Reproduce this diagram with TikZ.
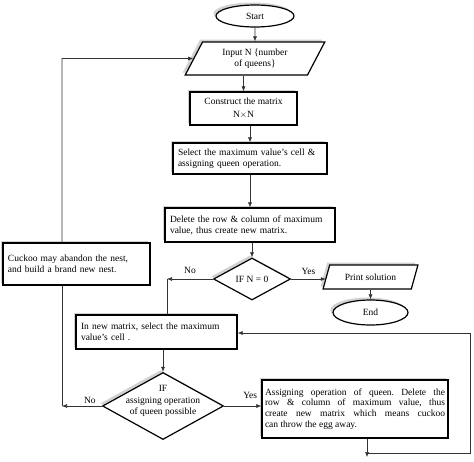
\documentclass[tikz,border=0pt]{standalone}
\usepackage{fontspec}
\setmainfont{Liberation Serif}
\usetikzlibrary{shapes.geometric,shadows,arrows.meta}
\frenchspacing
\begin{document}
\begin{tikzpicture}[x=1pt,y=-1pt,
  font=\fontsize{9.5}{10.8}\selectfont,
  shad/.style={drop shadow={shadow xshift=-2.5pt,shadow yshift=2.5pt,fill=black!35}},
  shp/.style={draw,line width=1.2pt,fill=white,shad},
  rbox/.style={shp,rectangle,inner sep=0pt,align=center},
  lbox/.style={shp,rectangle,inner xsep=5pt,inner ysep=0pt,align=left},
  term/.style={shp,ellipse,inner sep=0pt},
  para/.style={shp,trapezium,trapezium left angle=#1,trapezium right angle=180-#1,trapezium stretches=true,inner sep=0pt,align=center},
  dec/.style={shp,diamond,inner sep=0pt},
  conn/.style={line width=0.6pt,draw=black!80},
  arr/.style={conn,-{Latex[length=5pt,width=4pt]}},
  lab/.style={inner sep=1pt}
]
\useasboundingbox (0,0) rectangle (474,461);

% nodes
\node[term,minimum width=78pt,minimum height=22pt] (start) at (255,16) {Start};
\node[para=61,minimum width=140pt,minimum height=33pt] (input) at (255,58.5) {Input N \{number\\of queens\}};
\node[rbox,minimum width=107pt,minimum height=33pt] (construct) at (243.5,108.5) {Construct the matrix\\[2pt]N$\times$N};
\node[lbox,text width=144pt,minimum height=31pt] (select) at (250,158.5) {Select the maximum value’s cell \&\\assigning queen operation.};
\node[lbox,text width=160pt,minimum height=34pt] (delete) at (250,225) {Delete the row \& column of maximum\\value, thus create new matrix.};
\node[dec,minimum width=77pt,minimum height=42pt] (d1) at (252,279) {IF N = 0};
\node[para=58,minimum width=95pt,minimum height=24pt] (print) at (370.5,277) {Print solution};
\node[term,minimum width=75pt,minimum height=25pt] (end) at (370.5,312.5) {End};
\node[lbox,text width=137pt,minimum height=42pt] (cuckoo) at (76.5,264) {Cuckoo may abandon the nest,\\and build a brand new nest.\\[4pt]};
\node[lbox,text width=151pt,minimum height=34pt] (newm) at (156.5,332) {In new matrix, select the maximum\\value’s cell .};
\node[dec,minimum width=121pt,minimum height=67pt] (d2) at (163,406) {};
\node[align=center,inner sep=0pt,font=\fontsize{9.5}{11.4}\selectfont] (d2t) at (163,401) {IF\\assigning operation\\of queen possible};
\node[shp,rectangle,text width=180pt,align=justify,inner xsep=3pt,inner ysep=0pt,minimum height=58pt] (assign) at (355,409) {Assigning operation of queen. Delete the\linebreak row \& column of maximum value, thus\linebreak create new matrix which means cuckoo\linebreak can throw the egg away.};

% helper coordinates
\coordinate (c1) at (167,279);
\coordinate (c2) at (62,406);
\coordinate (c3) at (62,58.5);
\coordinate (c4) at (367,457);
\coordinate (c5) at (470,453);
\coordinate (c6) at (470,333);

% connectors
\draw[arr] (start) -- (input);
\draw[arr] (input.south -| construct.north) -- (construct.north);
\draw[arr] (construct.south -| 250,0) -- (select.north);
\draw[arr] (select) -- (delete);
\draw[arr] (delete.south -| d1.north) -- (d1.north);
\draw[arr] (d1.east) -- (d1.east -| print.west) node[lab,midway,above=3pt] {Yes};
\draw[arr] (print.south -| end.north) -- (end.north);
\draw[arr] (d1.west) -- (c1) node[lab,midway,above=4pt] {No};
\draw[conn] (c1) -- (c1 |- newm.north);
\draw[arr] (d2.north |- newm.south) -- (d2.north);
\draw[arr] (d2.west) -- (c2) node[lab,pos=0.3,above=1pt] {No};
\draw[conn] (c2) -- (c2 |- cuckoo.south);
\draw[arr] (c3 |- cuckoo.north) -- (c3) -- (input.west);
\draw[arr] (d2.east) -- (d2.east -| assign.west) node[lab,pos=0.7,above=6pt] {Yes};
\draw[arr] (c4 |- assign.south) -- (c4);
\draw[arr] (c4 |- c5) -- (c5) -- (c6) -- (newm.east |- c6);
\end{tikzpicture}
\end{document}
